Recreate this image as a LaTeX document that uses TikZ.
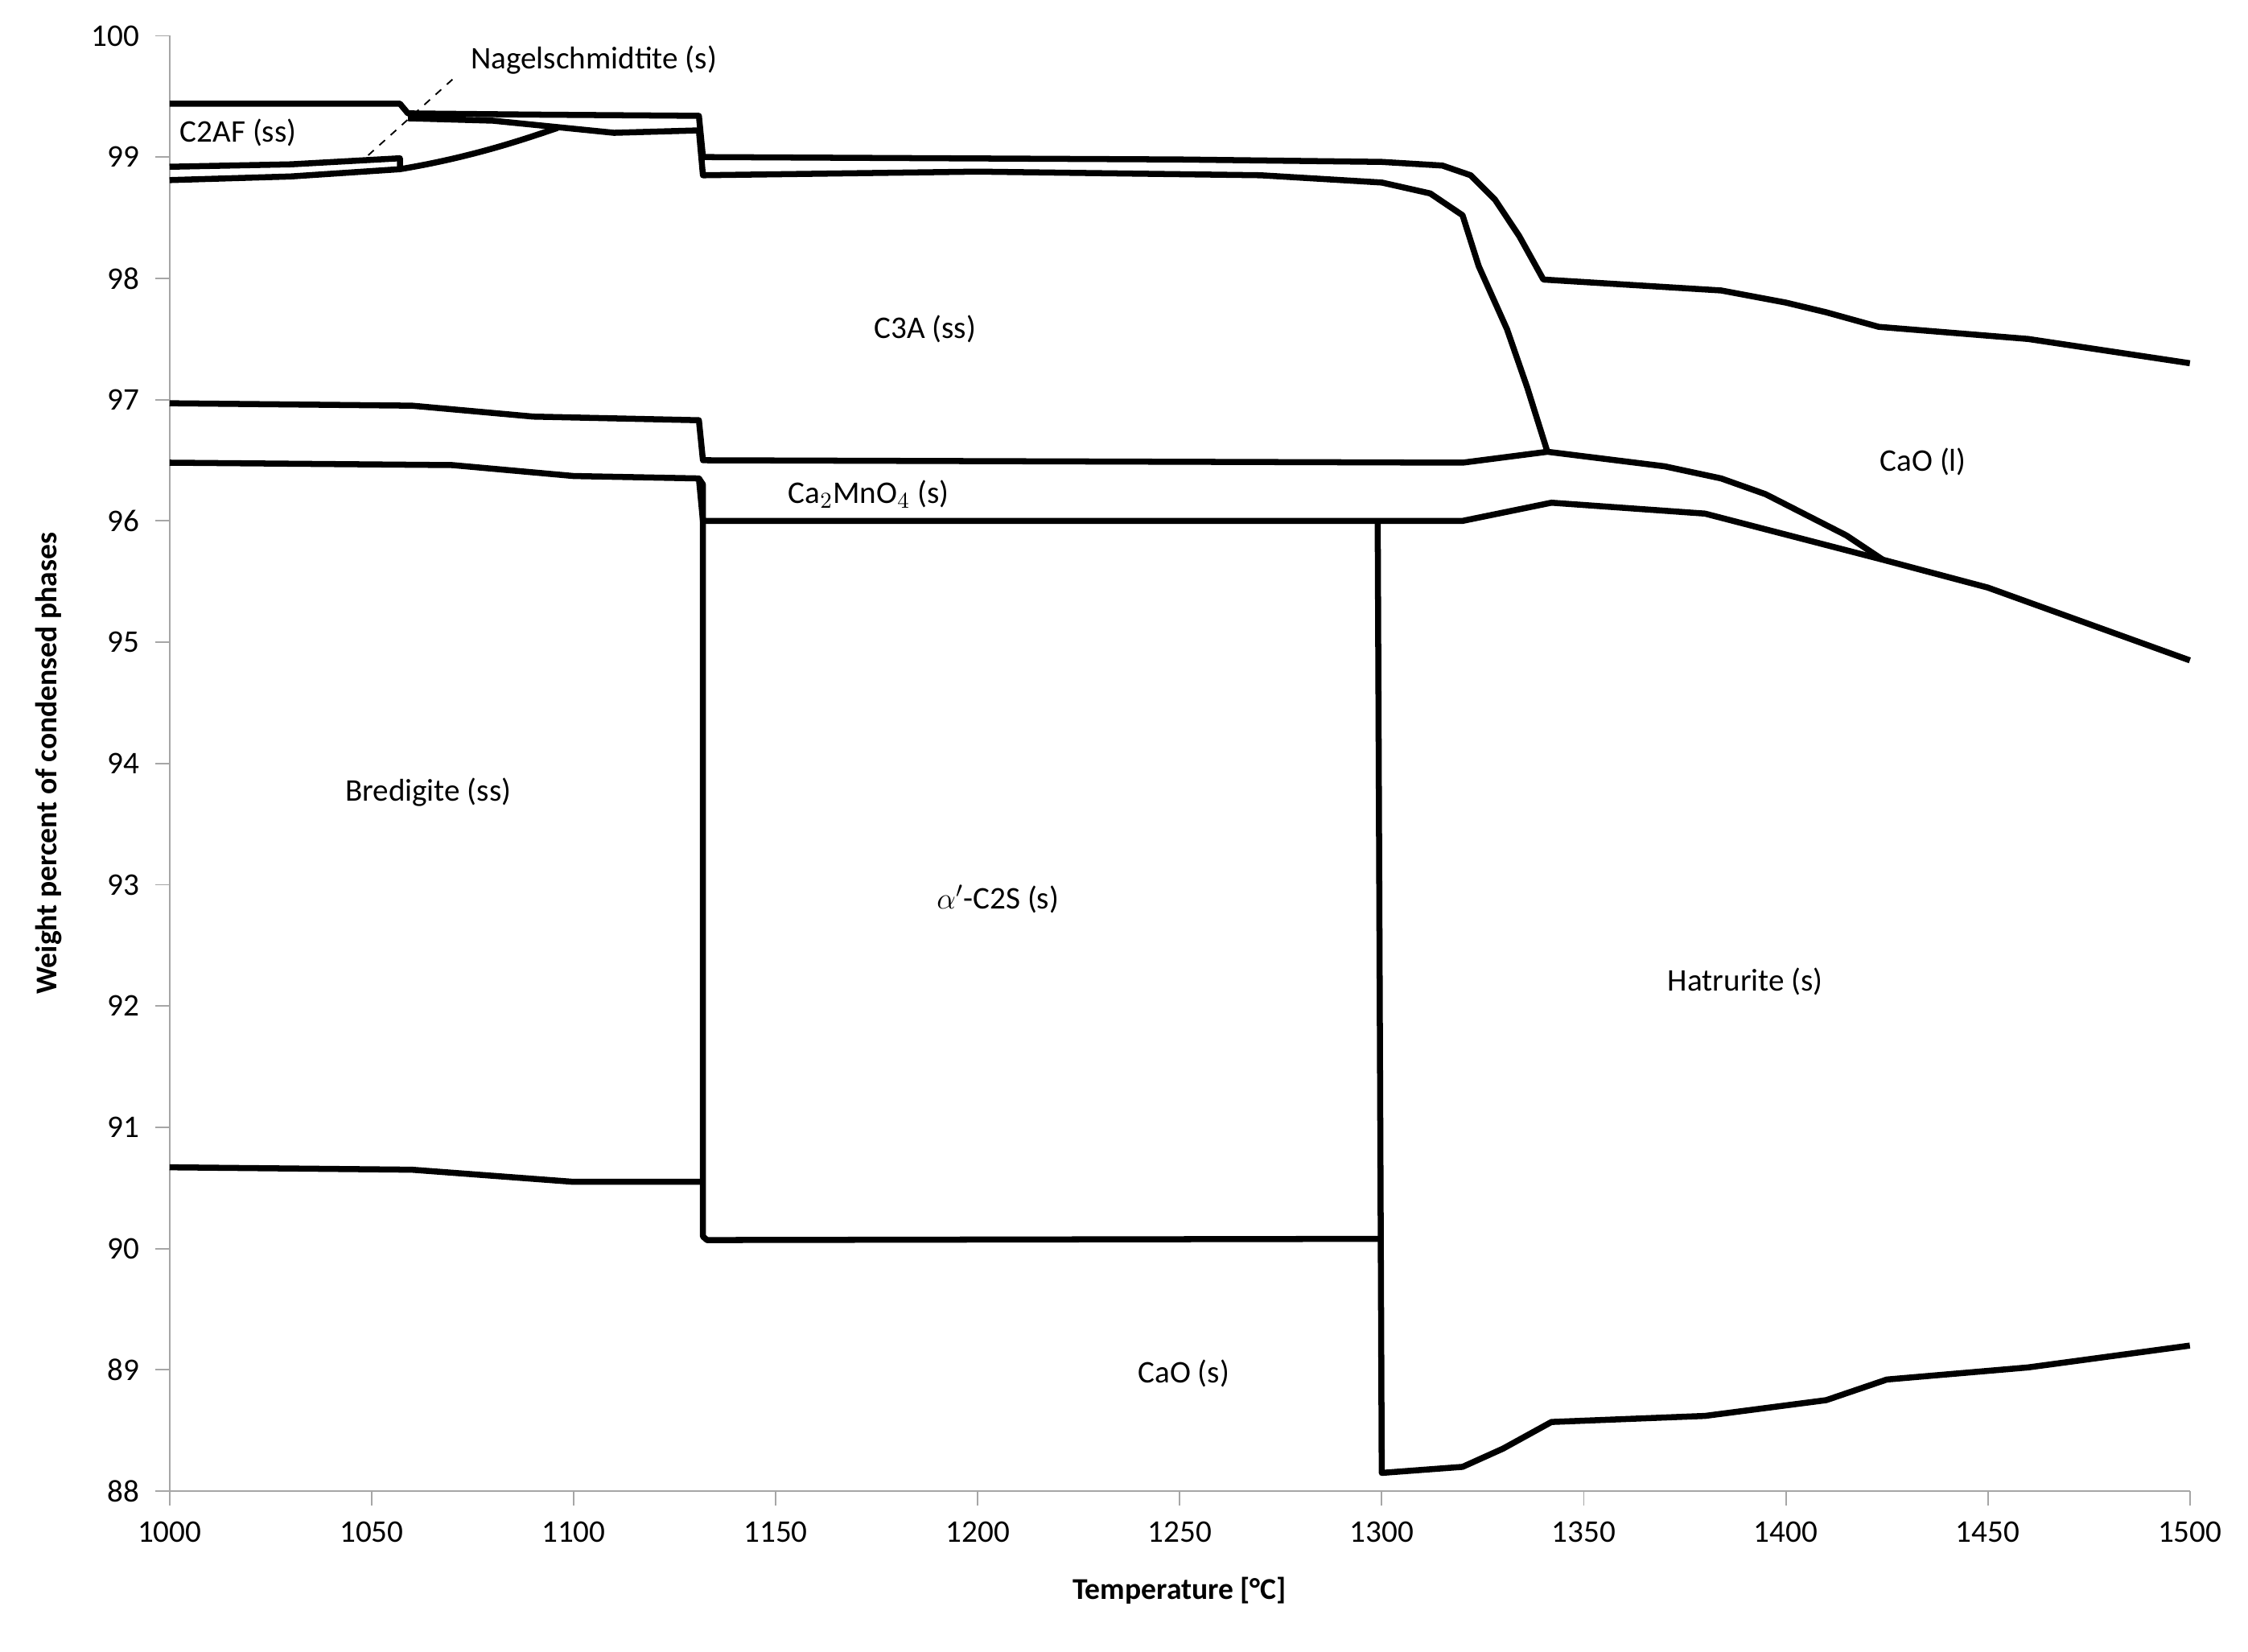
\documentclass[tikz,border=0pt]{standalone}
\usepackage{fontspec}
\setmainfont{Carlito}
\begin{document}
\begin{tikzpicture}
\useasboundingbox (0,0) rectangle (31.36,23.04);
\begin{scope}[shift={(-54.0,-146.62)},x=0.05636cm,y=1.6916cm,
  curve/.style={line width=2.4pt,line join=round},
  lbl/.style={font=\fontsize{12.5}{14}\selectfont},
  tick/.style={font=\fontsize{12.5}{14}\selectfont}]
% axes
\draw[gray!70,line width=0.6pt] (1000,100)--(1000,88)--(1500,88);
\foreach \v in {88,...,100}{
  \draw[gray!70,line width=0.6pt] (1000,\v)--++(-0.2cm,0);
  \node[tick,anchor=east] (y\v) at ([xshift=-0.3cm]1000,\v) {\v};}
\foreach \t in {1000,1050,...,1500}{
  \draw[gray!70,line width=0.6pt] (\t,88)--++(0,-0.2cm);
  \node[tick,anchor=north] (x\t) at ([yshift=-0.3cm]\t,88) {\t};}
\node[font=\bfseries\fontsize{12}{14}\selectfont] (xt) at (1250,87.18) {Temperature [°C]};
\node[font=\bfseries\fontsize{12}{14}\selectfont,rotate=90] (yt) at (970,94) {Weight percent of condensed phases};
% top lines
\draw[curve] (1000,99.44)--(1057,99.44)--(1059,99.36)--(1090,99.35)--(1131,99.34)--(1132,99.0)
  --(1250,98.98)--(1300,98.96)--(1315,98.93)--(1322,98.85)--(1328,98.65)--(1334,98.35)--(1340,97.99)
  --(1384,97.9)--(1400,97.8)--(1410,97.72)--(1423,97.6)--(1460,97.5)--(1500,97.3);
\draw[curve] (1059,99.32)--(1080,99.3)--(1095,99.25)--(1110,99.2)--(1131,99.22)--(1132,98.85)
  --(1200,98.88)--(1270,98.85)--(1300,98.79)--(1312,98.7)--(1320,98.52)--(1324,98.1)--(1331,97.58)
  --(1336,97.1)--(1341,96.57);
\draw[curve] (1000,98.92)--(1030,98.94)--(1057,98.99)--(1057,98.91);
\draw[curve] (1000,98.81)--(1030,98.84)--(1057,98.9) .. controls (1075,99.0) and (1088,99.15) .. (1096,99.24);
\draw[dashed,line width=0.6pt] (1070,99.64)--(1049,99.01);
% C3A bottom
\draw[curve] (1000,96.97)--(1060,96.95)--(1090,96.86)--(1131,96.83)--(1132,96.5)--(1320,96.48)
  --(1341,96.57)--(1370,96.45)--(1384,96.35)--(1395,96.22)--(1405,96.05)--(1415,95.88)--(1424,95.68);
% Ca2MnO4 bottom
\draw[curve] (1000,96.48)--(1070,96.46)--(1100,96.37)--(1131,96.35)--(1132,96.0)--(1320,96.0)
  --(1342,96.15)--(1380,96.06)--(1424,95.68)--(1450,95.45)--(1475,95.15)--(1500,94.85);
% verticals
\draw[curve] (1131,96.35)--(1132,96.3)--(1132,90.1)--(1133,90.07)--(1300,90.08);
\draw[curve] (1000,90.67)--(1060,90.65)--(1100,90.55)--(1132,90.55);
\draw[curve] (1299,96.0)--(1300,88.15)--(1320,88.2)--(1330,88.35)--(1342,88.57)--(1380,88.62)
  --(1410,88.75)--(1425,88.92)--(1460,89.02)--(1500,89.2);
% labels
\node[lbl] (c2af) at (1017,99.2) {C2AF (ss)};
\node[lbl] (nag) at (1105,99.8) {Nagelschmidtite (s)};
\node[lbl] (c3a) at (1187,97.58) {C3A (ss)};
\node[lbl] (camn) at (1173,96.22) {Ca$_2$MnO$_4$ (s)};
\node[lbl] (caol) at (1434,96.49) {CaO (l)};
\node[lbl] (bred) at (1064,93.76) {Bredigite (ss)};
\node[lbl] (a2s) at (1205,92.88) {$\alpha'$-C2S (s)};
\node[lbl] (hat) at (1390,92.2) {Hatrurite (s)};
\node[lbl] (caos) at (1251,88.97) {CaO (s)};
\end{scope}
\end{tikzpicture}
\end{document}
